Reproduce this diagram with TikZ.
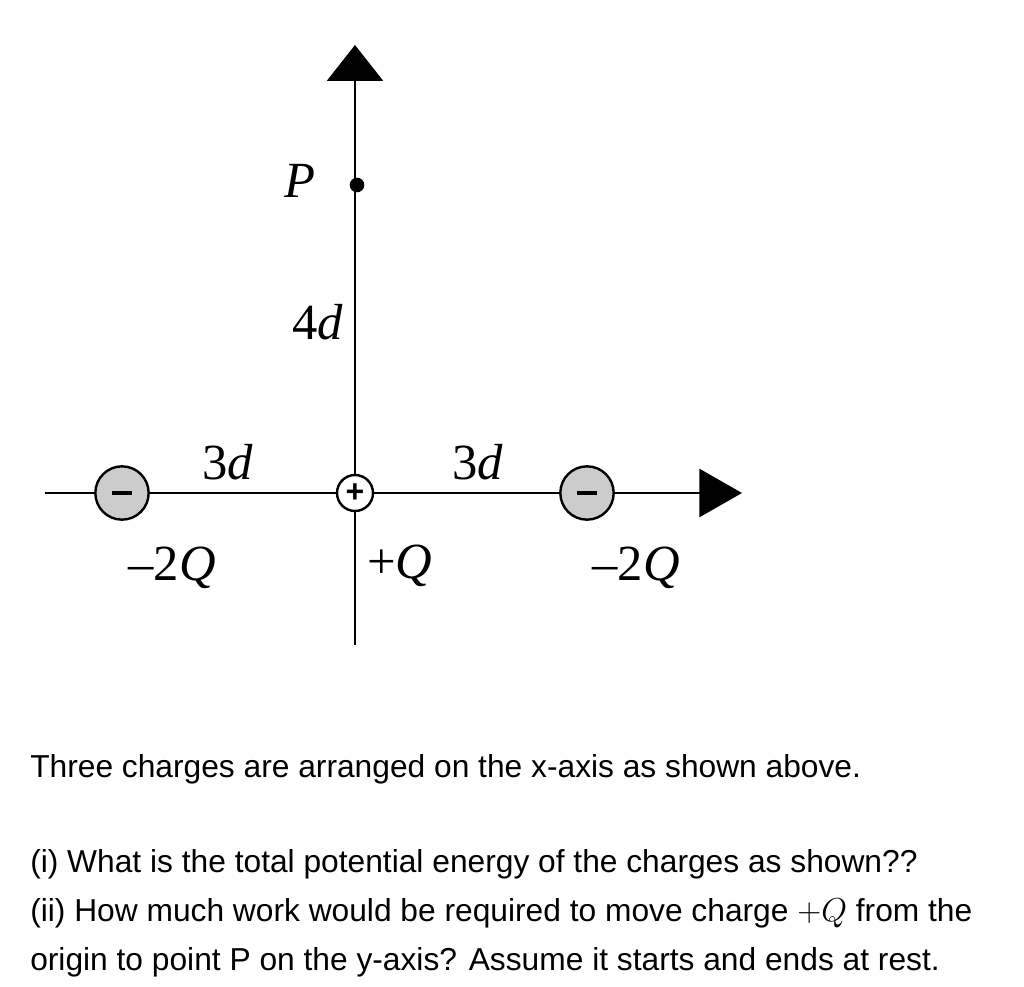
\documentclass[tikz,border=0pt]{standalone}
\usepackage{fontspec}
\setsansfont{Liberation Sans}
\setmainfont{Liberation Serif}
\usetikzlibrary{arrows.meta}
\tikzset{
 ax/.style={line width=2.2pt},
 negcharge/.style={circle,draw,line width=1.8pt,fill=gray!40,minimum size=40pt,inner sep=0pt},
 poscharge/.style={circle,draw,line width=1.8pt,fill=white,minimum size=27pt,inner sep=0pt},
 lab/.style={font=\rmfamily\fontsize{38}{40}\selectfont},
 body/.style={font=\sffamily\fontsize{23.8}{26}\selectfont,anchor=base west,inner sep=0pt}
}
\begin{document}
\begin{tikzpicture}[x=0.75pt,y=-0.75pt]
\useasboundingbox[fill=white] (0,0) rectangle (1024,987);
\coordinate (vb) at (355,645);
\coordinate (vt) at (355,45);
\coordinate (hl) at (45,493);
\coordinate (hr) at (742,493);
\draw[ax,-{Triangle[width=42pt,length=27pt]}] (vb) -- (vt);
\draw[ax,-{Triangle[width=36pt,length=32pt]}] (hl) -- (hr);
\node[negcharge] (L) at (122,493) {\rule{15pt}{2.6pt}};
\node[negcharge] (R) at (587,493) {\rule{15pt}{2.6pt}};
\node[poscharge] (C) at (355,493) {\sffamily\bfseries\fontsize{24}{24}\selectfont +};
\node[circle,fill,inner sep=0pt,minimum size=11pt] (P) at (357,185) {};
\node[lab] (lp) at (300,181) {\textit{P}};
\node[lab] (l4) at (318,322) {4\textit{d}};
\node[lab] (l3a) at (228,462) {3\textit{d}};
\node[lab] (l3b) at (478,462) {3\textit{d}};
\node[lab] (q1) at (172,568) {–2\textit{Q}};
\node[lab] (q2) at (400,566) {+\textit{Q}};
\node[lab] (q3) at (636,568) {–2\textit{Q}};
\node[body] (t1) at (30,777) {Three charges are arranged on the x-axis as shown above.};
\node[body] (t2) at (30,872) {(i) What is the total potential energy of the charges as shown??};
\node[body] (t3) at (30,921) {(ii) How much work would be required to move charge {\rmfamily\fontsize{30}{30}\selectfont$+Q$} from the};
\node[body] (t4) at (30,970) {origin to point P on the y-axis? Assume it starts and ends at rest.};
\end{tikzpicture}
\end{document}
